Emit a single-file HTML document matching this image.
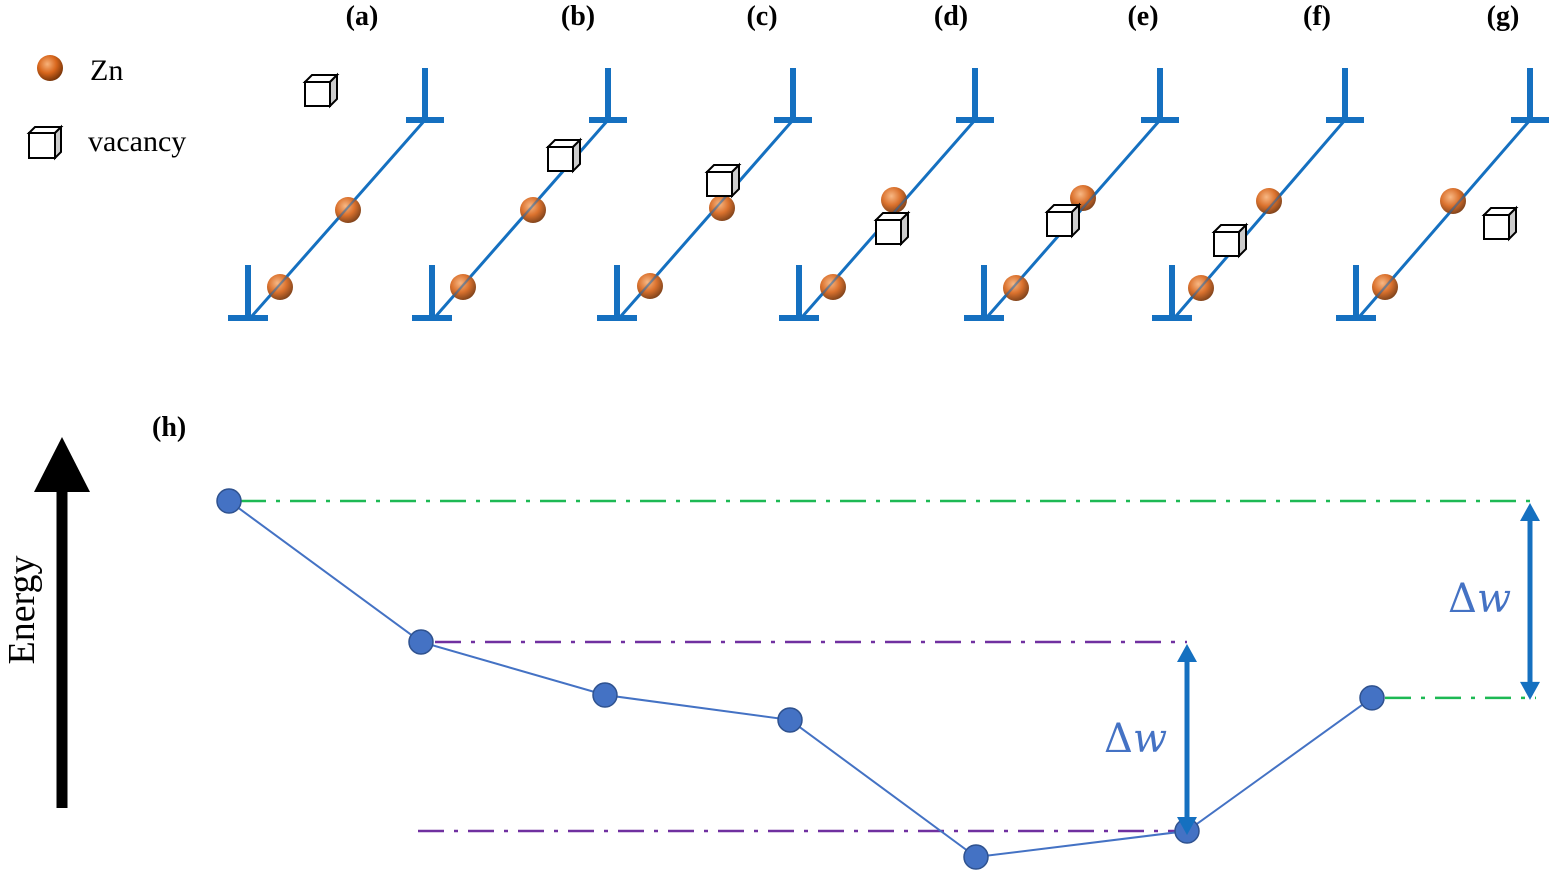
<!DOCTYPE html>
<html><head><meta charset="utf-8"><style>
html,body{margin:0;padding:0;background:#fff;}
svg{display:block;}
</style></head><body>
<svg id="fig" width="1550" height="872" viewBox="0 0 1550 872" xmlns="http://www.w3.org/2000/svg">
<defs>
<radialGradient id="zn" cx="0.4" cy="0.35" r="0.7">
<stop offset="0" stop-color="#f7b27a"/><stop offset="0.5" stop-color="#d8661c"/><stop offset="1" stop-color="#6b2e06"/>
</radialGradient>
</defs>
<g id="legend">
<circle cx="50" cy="68" r="13" fill="url(#zn)"/>
<text x="90" y="80" font-family="Liberation Serif, serif" font-size="30">Zn</text>
<g transform="translate(29,127)">
<rect x="0" y="6" width="26" height="25" fill="#fff" stroke="#000" stroke-width="2"/>
<polygon points="0,6 6,0 32,0 26,6" fill="#fff" stroke="#000" stroke-width="2"/>
<polygon points="26,6 32,0 32,25 26,31" fill="#ccc" stroke="#000" stroke-width="2"/>
</g>
<text x="88" y="151" font-family="Liberation Serif, serif" font-size="30">vacancy</text>
</g>
<g id="panels"></g>
<g id="chart"></g>
<g>
<line x1="62" y1="808" x2="62" y2="485" stroke="#000" stroke-width="11"/>
<polygon points="34,492 90,492 62,437" fill="#000"/>
<text transform="translate(34,610) rotate(-90)" text-anchor="middle" font-family="Liberation Serif, serif" font-size="38">Energy</text>
</g>
<text x="152" y="436" font-family="Liberation Serif, serif" font-weight="bold" font-size="28">(h)</text>
</svg>
<script>
const panelLabels = ['(a)','(b)','(c)','(d)','(e)','(f)','(g)'];
const panelTopX = [425,608,793,975,1160,1345,1530];
const panelBotX = [248,432,617,799,984,1172,1356];
const labelX = [362,578,762,951,1143,1317,1503];
const zn1 = [[280,287],[463,287],[650,286],[833,287],[1016,288],[1201,288],[1385,287]];
const zn2 = [[348,210],[533,210],[722,208],[894,200],[1083,198],[1269,201],[1453,201]];
const vac = [[320,90],[563,155],[722,180],[891,228],[1062,220],[1229,240],[1499,223]];
const energies = [10, 6.04, 4.55, 3.85, 0, 0.73, 4.47];
const stepX = [229,421,605,790,976,1187,1372];

const NS='http://www.w3.org/2000/svg';
function mk(tag,attrs,parent){const e=document.createElementNS(NS,tag);for(const k in attrs)e.setAttribute(k,attrs[k]);parent.appendChild(e);return e;}
const P=document.getElementById('panels');
const blue='#1570c0';
function cube(g,cx,cy){
  const x=cx-15,y=cy-15;
  mk('rect',{x:x,y:y+7,width:25,height:24,fill:'#fff',stroke:'#000','stroke-width':2},g);
  mk('polygon',{points:`${x},${y+7} ${x+7},${y} ${x+32},${y} ${x+25},${y+7}`,fill:'#fff',stroke:'#000','stroke-width':2},g);
  mk('polygon',{points:`${x+25},${y+7} ${x+32},${y} ${x+32},${y+24} ${x+25},${y+31}`,fill:'#ccc',stroke:'#000','stroke-width':2},g);
}
for(let i=0;i<panelLabels.length;i++){
  const g=mk('g',{},P);
  
  
  const t=mk('text',{x:labelX[i],y:25,'text-anchor':'middle','font-family':'Liberation Serif, serif','font-weight':'bold','font-size':28},g);
  t.textContent=panelLabels[i];
  
  
  const tx=panelTopX[i], bx=panelBotX[i];
  mk('line',{x1:tx,y1:120,x2:bx+4,y2:316,stroke:blue,'stroke-width':3},g);
  mk('line',{x1:tx,y1:68,x2:tx,y2:120,stroke:blue,'stroke-width':6},g);
  mk('line',{x1:tx-19,y1:120,x2:tx+19,y2:120,stroke:blue,'stroke-width':6},g);
  mk('line',{x1:bx,y1:265,x2:bx,y2:318,stroke:blue,'stroke-width':6},g);
  mk('line',{x1:bx-20,y1:318,x2:bx+20,y2:318,stroke:blue,'stroke-width':6},g);
  mk('circle',{cx:zn1[i][0],cy:zn1[i][1],r:13,fill:'url(#zn)','fill-opacity':0.92},g);
  mk('circle',{cx:zn2[i][0],cy:zn2[i][1],r:13,fill:'url(#zn)','fill-opacity':0.92},g);
  mk('line',{x1:tx,y1:120,x2:bx+4,y2:316,stroke:blue,'stroke-width':2,'stroke-opacity':0.5},g);
  cube(g,vac[i][0],vac[i][1]);
}
const C=document.getElementById('chart');
const yOf=e=>857-e*35.6;
const pts=energies.map((e,i)=>[stepX[i],yOf(e)]);
const dash='26,10,4,10';
function hline(y,x1,x2,col,name){const l=mk('line',{x1:x1,y1:y,x2:x2,y2:y,stroke:col,'stroke-width':2.5,'stroke-dasharray':dash},C);}
hline(pts[0][1],240,1536,'#1db954','ref-line-initial');
hline(pts[6][1],1385,1536,'#1db954','ref-line-final');
hline(pts[1][1],435,1187,'#7030a0','ref-line-step2');
hline(pts[5][1],418,1175,'#7030a0','ref-line-step6');
const path=mk('polyline',{points:pts.map(p=>p.join(',')).join(' '),fill:'none',stroke:'#4472c4','stroke-width':2},C);


pts.forEach((p,i)=>{
  const c=mk('circle',{cx:p[0],cy:p[1],r:12,fill:'#4472c4',stroke:'#2f528f','stroke-width':1.5},C);
  
  
});
function darrow(x,y1,y2,name){
  const g=mk('g',{},C);
  
  
  mk('line',{x1:x,y1:y1+14,x2:x,y2:y2-14,stroke:'#1570c0','stroke-width':5},g);
  mk('polygon',{points:`${x-10},${y1+18} ${x+10},${y1+18} ${x},${y1}`,fill:'#1570c0'},g);
  mk('polygon',{points:`${x-10},${y2-18} ${x+10},${y2-18} ${x},${y2}`,fill:'#1570c0'},g);
}
darrow(1187,pts[1][1]+2,pts[5][1]+4,'delta-w-arrow-left');
darrow(1530,pts[0][1]+2,pts[6][1]+2,'delta-w-arrow-right');
function dw(x,y,name){
  const t=mk('text',{x:x,y:y,'font-family':'DejaVu Serif, serif','font-size':40,fill:'#4472c4'},C);
  t.innerHTML='Δ<tspan font-style="italic">w</tspan>';
  
  
}
dw(1104,752,'delta-w-label-left');
dw(1448,612,'delta-w-label-right');
</script>
</body></html>
